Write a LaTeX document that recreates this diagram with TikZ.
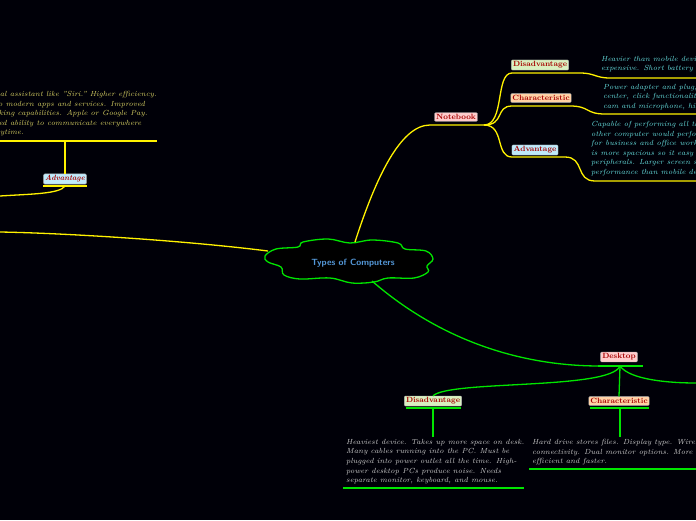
\documentclass[tikz,border=0pt]{standalone}
\begin{document}
\begin{tikzpicture}[x=1pt,y=-1pt,
 lab/.style={draw=gray!60,rounded corners=1pt,inner sep=1.6pt,font=\fontsize{7.6}{8}\selectfont\bfseries,text=red!65!black},
 yl/.style={draw=yellow,line width=1.3pt},
 gl/.style={draw=green!90!black,line width=1.3pt},
 txt/.style={anchor=north west,align=left,font=\fontsize{7.4}{9.6}\selectfont\itshape,inner sep=0pt}]
\fill[black!97!blue] (0,0) rectangle (696,520);
\useasboundingbox (0,0) rectangle (696,520);
\clip (0,0) rectangle (696,520);
% left branch
\coordinate (l0) at (268,251);
\coordinate (l1) at (0,232);
\draw[yl] (l0) .. controls (180,240) and (60,233) .. (l1);
% center cloud
\draw[green!90!black,line width=1.3pt,fill=black] plot[smooth cycle,tension=0.6] coordinates {(265,256) (276,249) (298,247) (303,242) (328,239) (350,243) (372,240) (398,243) (405,249) (426,251) (433,259) (427,266) (428,272) (414,278) (388,278) (374,282) (352,283) (330,278) (300,279) (284,275) (281,267) (268,262)};
\node[text=cyan!60!blue!70!white,font=\sffamily\bfseries\fontsize{9}{10}\selectfont] (c) at (353,263) {Types of Computers};
\node[lab,fill=cyan!25,font=\fontsize{7.6}{8}\selectfont\bfseries\itshape] (la) at (65,179) {Advantage};
\coordinate (la1) at (43,186); \coordinate (la2) at (87,186);
\draw[yl] (la1) -- (la2);
\coordinate (la3) at (0,196);
\draw[yl] (65,186) .. controls (60,194) and (30,194) .. (la3);
\coordinate (lu1) at (0,141); \coordinate (lu2) at (157,141);
\draw[yl] (lu1) -- (lu2);
\draw[yl] (65,141) -- (la.north);
\node[txt,text=yellow!60!gray!90!white] (lt) at (-5,91) {ual assistant like "Siri." Higher efficiency.\\ to modern apps and services. Improved\\rking capabilities. Apple or Google Pay.\\sed ability to communicate everywhere\\nytime.};
% notebook
\node[lab,fill=pink!80] (nb) at (456,117) {Notebook};
\coordinate (n0) at (430,125); \coordinate (n1) at (484,125);
\draw[yl] (355,242) .. controls (375,180) and (400,125) .. (n0) -- (n1);
\node[lab,fill=yellow!40!green!25] (nd) at (540,65) {Disadvantage};
\node[lab,fill=orange!35] (nc) at (541,98) {Characteristic};
\node[lab,fill=cyan!25] (na) at (535,150) {Advantage};
\draw[yl] (n1) .. controls (505,125) and (495,73) .. (512,73) -- (580,73) .. controls (595,73) and (595,78) .. (610,78) -- (696,78);
\draw[yl] (n1) .. controls (505,125) and (495,106) .. (512,106) -- (570,106) .. controls (590,106) and (585,114) .. (605,114) -- (696,114);
\draw[yl] (n1) .. controls (505,125) and (495,157) .. (512,157) -- (565,157) .. controls (585,157) and (575,181) .. (595,181) -- (696,181);
\node[txt,text=teal!40!cyan!60!white] (ndt) at (601,56) {Heavier than mobile devices and more\\expensive. Short battery life.};
\node[txt,text=teal!40!cyan!60!white] (nct) at (603,84) {Power adapter and plug, action\\center, click functionality, web\\cam and microphone, high};
\node[txt,text=teal!40!cyan!60!white] (nat) at (591,121) {Capable of performing all the tasks\\other computer would perform, great\\for business and office work purposes\\is more spacious so it easy to connect\\peripherals. Larger screen size, better\\performance than mobile devices.};
% desktop
\draw[gl] (372,281) .. controls (440,340) and (520,366) .. (600,366);
\node[lab,fill=pink!80] (dk) at (619,357) {Desktop};
\coordinate (d1) at (598,366); \coordinate (d2) at (643,366);
\draw[gl] (d1) -- (d2);
\node[lab,fill=yellow!40!green!25] (dd) at (433,401) {Disadvantage};
\node[lab,fill=orange!35] (dc) at (619,401) {Characteristic};
\draw[gl] (620,366) .. controls (610,390) and (450,380) .. (dd.north);
\draw[gl] (620,366) -- (dc.north);
\draw[gl] (620,366) .. controls (630,380) and (670,383) .. (696,383);
\draw[gl] (406,408) -- (461,408);
\draw[gl] (590,408) -- (649,408);
\draw[gl] (433,408) -- (433,437);
\draw[gl] (620,408) -- (620,437);
\node[txt,text=gray!40!white] (ddt) at (346,439) {Heaviest device. Takes up more space on desk.\\Many cables running into the PC. Must be\\plugged into power outlet all the time. High-\\power desktop PCs produce noise. Needs\\separate monitor, keyboard, and mouse.};
\draw[gl] (343,488) -- (524,488);
\node[txt,text=gray!40!white] (dct) at (532,439) {Hard drive stores files. Display type. Wireless\\connectivity. Dual monitor options. More\\efficient and faster.};
\draw[gl] (529,469) -- (696,469);
\end{tikzpicture}
\end{document}
